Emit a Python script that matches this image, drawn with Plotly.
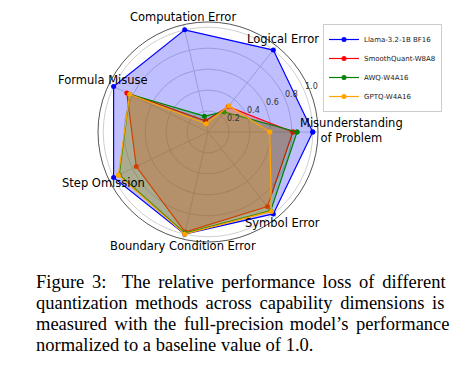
import math
import plotly.graph_objects as go

categories = ["Misunderstanding of Problem", "Logical Error", "Computation Error",
              "Formula Misuse", "Step Omission", "Boundary Condition Error", "Symbol Error"]
category_labels = ["Misunderstanding<br>of Problem", "Logical Error", "Computation Error",
                   "Formula Misuse", "Step Omission", "Boundary Condition Error", "Symbol Error"]

series_names = ["Llama-3.2-1B BF16", "SmoothQuant-W8A8", "AWQ-W4A16", "GPTQ-W4A16"]
llama_bf16 = [1.0, 1.0, 1.0, 1.0, 1.0, 1.0, 1.0]
smoothquant_w8a8 = [0.81, 0.31, 0.11, 0.86, 0.76, 0.98, 0.91]
awq_w4a16 = [0.85, 0.245, 0.155, 0.83, 0.94, 0.99, 0.96]
gptq_w4a16 = [0.59, 0.32, 0.08, 0.83, 0.95, 1.0, 0.97]

radial_ticks = [0.2, 0.4, 0.6, 0.8, 1.0]
radial_ticktext = ["0.2", "0.4", "0.6", "0.8", "1.0"]
r_max = 1.05

caption_lines = [
    "Figure 3:  The relative performance loss of different",
    "quantization methods across capability dimensions is",
    "measured with the full-precision model\u2019s performance",
    "normalized to a baseline value of 1.0.",
]

series_values = [llama_bf16, smoothquant_w8a8, awq_w4a16, gptq_w4a16]
colors = ["#0000ff", "#ff0000", "#008000", "#ffa500"]
fills = ["rgba(0,0,255,0.25)", "rgba(255,0,0,0.25)", "rgba(0,128,0,0.25)", "rgba(255,165,0,0.25)"]

fig = go.Figure()
for name, vals, c, fc in zip(series_names, series_values, colors, fills):
    r_closed = vals + vals[:1]
    t_closed = categories + categories[:1]
    fig.add_trace(go.Scatterpolar(
        r=r_closed, theta=t_closed, mode="none",
        fill="toself", fillcolor=fc, showlegend=False, hoverinfo="skip",
    ))
    fig.add_trace(go.Scatterpolar(
        r=r_closed, theta=t_closed, mode="lines+markers", name=name,
        line=dict(color=c, width=1.2),
        marker=dict(color=c, size=5),
    ))

W, H = 474, 377
cx, cy, R = 208, 132, 110

annotations = []
label_pos = {
    "Misunderstanding<br>of Problem": (351, 131),
    "Logical Error": (283, 39),
    "Computation Error": (183, 17),
    "Formula Misuse": (103, 80),
    "Step Omission": (103, 183),
    "Boundary Condition Error": (183, 246),
    "Symbol Error": (282, 223),
}
for lab in category_labels:
    px, py = label_pos[lab]
    annotations.append(dict(
        x=px / W, y=1 - py / H, xref="paper", yref="paper",
        text=lab, showarrow=False, xanchor="center", yanchor="middle",
        font=dict(family="DejaVu Sans", size=11.5, color="black"), align="center",
    ))

# radial tick labels placed along the 22.5 degree direction (matplotlib style)
label_angle = math.radians(22.5)
for v, t in zip(radial_ticks, radial_ticktext):
    rp = v / r_max * R
    px = cx + rp * math.cos(label_angle) + 6.5
    py = cy - rp * math.sin(label_angle) - 5
    annotations.append(dict(
        x=px / W, y=1 - py / H, xref="paper", yref="paper",
        text=t, showarrow=False, xanchor="center", yanchor="middle",
        font=dict(family="DejaVu Sans", size=8, color="#333"),
    ))

gap_styles = [[" \u2006"], [" \u2006"], [" \u2006", " \u200a"], [" "]]
cap_y = [282, 303, 323.5, 344.5]
for line, yy, gs in zip(caption_lines, cap_y, gap_styles):
    words = line.split(" ")
    txt = words[0]
    for i, w in enumerate(words[1:]):
        txt += gs[i % len(gs)] + w
    annotations.append(dict(
        x=34 / W, y=1 - yy / H, xref="paper", yref="paper",
        text=txt, showarrow=False, xanchor="left", yanchor="middle",
        font=dict(family="Liberation Serif", size=18.5, color="black"),
    ))

fig.update_layout(
    width=W, height=H,
    margin=dict(l=0, r=0, t=0, b=0),
    paper_bgcolor="white",
    showlegend=True,
    legend=dict(
        x=323 / W, y=1 - 24 / H, xanchor="left", yanchor="top",
        font=dict(family="DejaVu Sans", size=7, color="#222"),
        bgcolor="rgba(255,255,255,0.8)", bordercolor="#cccccc", borderwidth=1,
        itemwidth=30, tracegroupgap=0,
    ),
    polar=dict(
        domain=dict(x=[(cx - R) / W, (cx + R) / W], y=[1 - (cy + R) / H, 1 - (cy - R) / H]),
        bgcolor="white",
        radialaxis=dict(
            range=[0, r_max], tickvals=radial_ticks, showticklabels=False,
            angle=22.5, showline=False, ticks="",
            gridcolor="#d0d0d0", gridwidth=0.8,
        ),
        angularaxis=dict(
            direction="counterclockwise", rotation=0,
            showticklabels=False, ticks="",
            showline=True, linecolor="#555555", linewidth=1,
            gridcolor="#d0d0d0", gridwidth=0.8,
        ),
    ),
    annotations=annotations,
)

fig.write_html("out.html", config={"displayModeBar": False},
               post_script="document.body.style.margin='0';")
